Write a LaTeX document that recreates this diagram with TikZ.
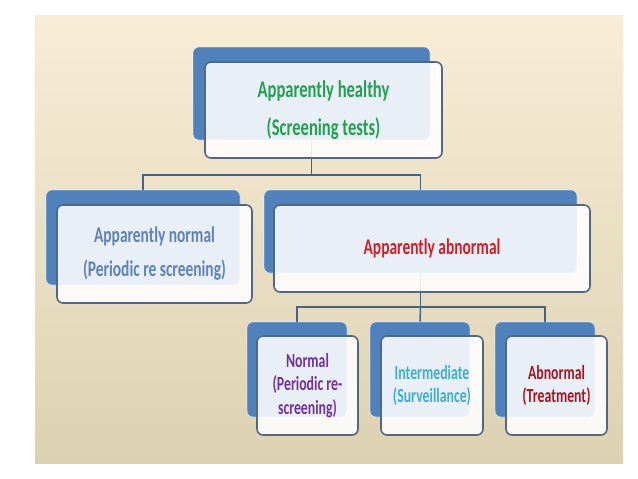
\documentclass[tikz,border=0pt]{standalone}
\usepackage{fontspec}
\newfontfamily\cfont{Carlito}[FakeStretch=0.69]
\definecolor{bgtop}{RGB}{248,237,213}
\definecolor{bgbot}{RGB}{220,210,178}
\definecolor{backblue}{RGB}{79,129,189}
\definecolor{frameline}{RGB}{80,104,134}
\definecolor{connline}{RGB}{70,100,130}
\definecolor{cgreen}{RGB}{34,160,80}
\definecolor{cgrayblue}{RGB}{95,130,185}
\definecolor{cred}{RGB}{210,30,40}
\definecolor{cpurple}{RGB}{112,48,160}
\definecolor{ccyan}{RGB}{60,175,205}
\definecolor{cdarkred}{RGB}{170,20,30}
\tikzset{
  backbox/.style={rectangle, rounded corners=6pt, fill=backblue, draw=white, draw opacity=0.5, line width=0.8pt, inner sep=0pt},
  frontbox/.style={rectangle, rounded corners=6pt, fill=white, fill opacity=0.88, text opacity=1, draw=frameline, draw opacity=1, line width=1.6pt, inner sep=0pt, align=center},
  conn/.style={draw=connline, line width=1.5pt},
  bigfont/.style={font=\cfont\bfseries\fontsize{24}{38}\selectfont},
  midfont/.style={font=\cfont\bfseries\fontsize{22.4}{34}\selectfont},
  smallfont/.style={font=\cfont\bfseries\fontsize{20}{23.5}\selectfont}
}
\begin{document}
\begin{tikzpicture}[x=1pt,y=-1pt]
\useasboundingbox (0,0) rectangle (638,479);
\fill[white] (0,0) rectangle (638,479);
\shade[top color=bgtop, bottom color=bgbot] (35,15) rectangle (623,463);
% back boxes
\node[backbox, minimum width=237, minimum height=93] (tb) at (311.5,93.5) {};
\node[backbox, minimum width=194, minimum height=95] (lb) at (143,237.5) {};
\node[backbox, minimum width=313, minimum height=83] (rb) at (420.5,231.5) {};
\node[backbox, minimum width=100, minimum height=95] (nb) at (297,369.5) {};
\node[backbox, minimum width=100, minimum height=95] (ib) at (420,369.5) {};
\node[backbox, minimum width=100, minimum height=95] (ab) at (545,369.5) {};
% connectors
\draw[conn] (tb.south) -- (tb.south |- 0,175) -| (lb.north);
\draw[conn] (tb.south |- 0,175) -| (rb.north);
\draw[conn] (rb.south) -- (rb.south |- 0,307) -| (nb.north);
\draw[conn] (rb.south |- 0,307) -| (ab.north);
\draw[conn] (rb.south |- 0,307) -- (ib.north);
% front boxes
\node[frontbox, bigfont, text=cgreen, minimum width=237, minimum height=96] (tf) at (323.5,110) {Apparently healthy\\(Screening tests)};
\node[frontbox, midfont, text=cgrayblue, minimum width=195, minimum height=98] (lf) at (154.5,254) {Apparently normal\\(Periodic re screening)};
\node[frontbox, midfont, text=cred, minimum width=316, minimum height=87] (rf) at (432,248.5) {Apparently abnormal};
\node[frontbox, smallfont, text=cpurple, minimum width=101, minimum height=99] (nf) at (307.5,385.5) {Normal\\(Periodic re-\\screening)};
\node[frontbox, smallfont, text=ccyan, minimum width=102, minimum height=99] (intf) at (432,385.5) {Intermediate\\(Surveillance)};
\node[frontbox, smallfont, text=cdarkred, minimum width=101, minimum height=99] (af) at (556.5,385.5) {Abnormal\\(Treatment)};
\end{tikzpicture}
\end{document}
